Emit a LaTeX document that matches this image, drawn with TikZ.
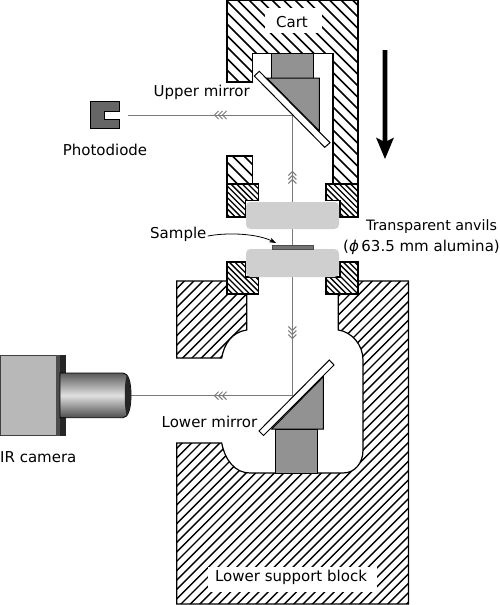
\documentclass[tikz,border=0pt]{standalone}
\usepackage{fontspec}
\setmainfont{DejaVu Sans}
\usetikzlibrary{arrows.meta}
\definecolor{midgray}{HTML}{929292}
\definecolor{anvil}{HTML}{CFCFCF}
\definecolor{beam}{HTML}{7A7A7A}
\tikzset{
  solid part/.style={draw=black,line width=1.2pt,line join=miter},
  prism/.style={draw=black,line width=1pt,fill=midgray},
  beamline/.style={draw=beam,line width=1pt},
  chev/.style={draw=beam,line width=1pt},
  lbl/.style={font=\fontsize{15pt}{18pt}\selectfont,inner sep=0pt,text=black},
  anvilbox/.style={fill=anvil,rounded corners=4.5pt}
}
% #1 = path, #2 spacing, #3 = +1/-1 slope, #4 line width
\newcommand{\hatchpart}[4]{%
  \begin{scope}
    \clip #1;
    \foreach \k in {-80,...,80}{
      \draw[line width=#4,black] ({250+\k*#2-#3*700},-400) -- ({250+\k*#2+#3*700},1000);
    }
  \end{scope}
  \draw[solid part] #1;
}
\newcommand{\chevrons}[3]{% x,y,rotation
  \begin{scope}[shift={(#1,#2)},rotate=#3]
    \foreach \d in {-4,0,4}{\draw[chev] (\d+2.5,-4) -- (\d-1.5,0) -- (\d+2.5,4);}
  \end{scope}
}
\begin{document}
\begin{tikzpicture}[x=1pt,y=-1pt]
\useasboundingbox (0,0) rectangle (500,605);
\fill[white] (0,0) rectangle (500,605);
% big arrow
\fill[black] (382.7,50) -- (387.3,50) -- (387.3,141) -- (394,137.5) -- (385,159) -- (376,137.5) -- (382.7,141) -- cycle;
% cart
\hatchpart{(227,0.5) -- (358,0.5) -- (358,184) -- (333,184) -- (333,53.5) -- (252.3,53.5) -- (252.3,82) -- (227,82) -- cycle}{11.5}{1}{1.5pt}
\fill[white] (265,8) rectangle (322,33);
\node[lbl] (cart) at (292,22) {Cart};
% stub
\hatchpart{(227,156) -- (252.3,156) -- (252.3,184) -- (227,184) -- cycle}{11.5}{1}{1.5pt}
% lower block
\hatchpart{(176.7,281) -- (227,281) -- (227,294) -- (246.7,294) -- (246.7,330) .. controls (232,332) and (224,344) .. (221.7,358) -- (176.7,358) -- cycle}{9.4}{-1}{1.4pt}
\hatchpart{(358,281) -- (408.5,281) -- (408.5,604) -- (176.7,604) -- (176.7,443) -- (221.7,443) .. controls (225,460) and (235,473) .. (250,473) -- (343,473) .. controls (355,473) and (363,463) .. (363,450) -- (363,360) .. controls (363,345) and (352,332) .. (338.3,330) -- (338.3,294) -- (358,294) -- cycle}{9.4}{-1}{1.4pt}
\fill[white] (208,567) rectangle (377,592);
\node[lbl] (block) at (291,577) {Lower support block};
% clamps
\hatchpart{(227,184) -- (258.3,184) -- (258.3,200.5) -- (245.3,200.5) -- (245.3,217) -- (227,217) -- cycle}{5.7}{1}{1.3pt}
\hatchpart{(326,184) -- (358,184) -- (358,217) -- (340,217) -- (340,200.5) -- (326,200.5) -- cycle}{5.7}{1}{1.3pt}
\hatchpart{(227,262) -- (245.3,262) -- (245.3,277) -- (258.3,277) -- (258.3,294) -- (227,294) -- cycle}{5.7}{1}{1.3pt}
\hatchpart{(340,262) -- (358,262) -- (358,294) -- (326,294) -- (326,277) -- (340,277) -- cycle}{5.7}{1}{1.3pt}
% beams
\draw[beamline] (127.7,115) -- (292.3,115) -- (292.3,202);
\draw[beamline] (292.3,229) -- (292.3,245);
\draw[beamline] (292.3,277) -- (292.3,395.7) -- (131,395.7);
\chevrons{220}{115}{0}
\chevrons{220}{395.7}{0}
\chevrons{292.3}{177}{-90}
\chevrons{292.3}{333}{90}
% upper mirror
\fill[prism] (271.3,53.5) rectangle (313.7,78);
\fill[prism] (266.7,78) -- (319.3,78) -- (319.3,131) -- cycle;
\draw[prism,fill=white] (254.3,76) -- (259.3,71.3) -- (330,142.7) -- (324.7,147.3) -- cycle;
% lower mirror
\fill[prism] (275.3,429) rectangle (317.7,473);
\fill[prism] (323.3,376.7) -- (323.3,429) -- (271.7,429) -- cycle;
\draw[prism,fill=white] (259,431) -- (263.5,435.5) -- (334,365) -- (329.3,360) -- cycle;
% anvils + sample
\fill[anvilbox] (246,202) rectangle (339,229);
\fill[anvilbox] (246,249) rectangle (339,277);
\draw[draw=black!70,fill=black!55,line width=.4pt] (272,245) rectangle (313,249);
% photodiode
\draw[draw=black,line width=.8pt,fill=black!60] (90,101.7) -- (119,101.7) -- (119,111.7) -- (104.3,111.7) -- (104.3,119) -- (119,119) -- (119,128) -- (90,128) -- cycle;
% camera
\draw[draw=black!75,fill=black!28,line width=1pt] (0,355.7) rectangle (56,435.3);
\fill[black!70] (56,355.2) rectangle (60,435.8);
\fill[black!85] (60,355.2) rectangle (65.5,435.8);
\shade[top color=black!65,bottom color=black!70,middle color=black!12] (60,373) -- (123,373) .. controls (128,373) and (131,381) .. (131,395) .. controls (131,409) and (128,417.7) .. (123,417.7) -- (60,417.7) -- cycle;
\draw[black,line width=.8pt] (60,417.7) -- (60,373) -- (123,373) .. controls (128,373) and (131,381) .. (131,395) .. controls (131,409) and (128,417.7) .. (123,417.7) -- cycle;
\fill[black!85] (127,375) .. controls (130,380) and (131,388) .. (131,395) .. controls (131,402) and (130,411) .. (127,416) .. controls (124,410) and (124,381) .. (127,375) -- cycle;
% labels
\node[lbl,anchor=west] (um) at (153.5,92) {Upper mirror};
\node[lbl] (pd) at (105,149.5) {Photodiode};
\node[lbl,anchor=west] (sa) at (150,234) {Sample};
\coordinate (sat) at (276,243);
\draw[-{Stealth[length=7pt,width=5pt]},line width=.8pt] (sa.east) ++(1,2) .. controls (230,232) and (258,234) .. (sat);
\node[lbl,anchor=west,font=\fontsize{14.3pt}{17pt}\selectfont] (ta) at (366,226.5) {Transparent anvils};
\node[lbl,anchor=west] (tb) at (343,247) {(\textit{ϕ}\,63.5 mm alumina)};
\node[lbl,anchor=west] (lm) at (161.5,422) {Lower mirror};
\node[lbl,anchor=west] (ir) at (0,457) {IR camera};
\end{tikzpicture}
\end{document}
